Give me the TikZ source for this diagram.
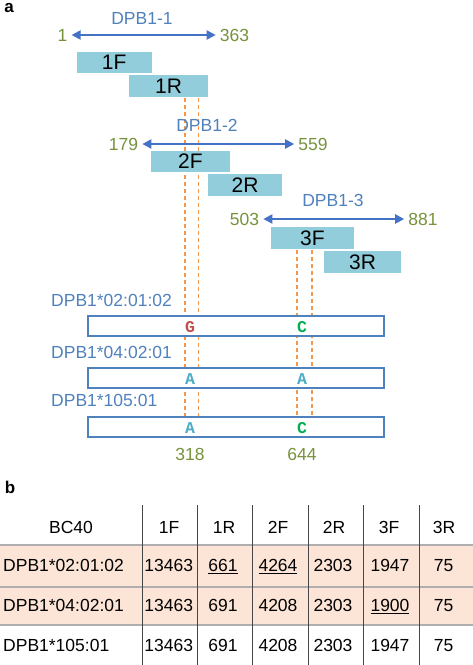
\documentclass[tikz,border=0pt]{standalone}
\usepackage{fontspec}
\setmainfont{Liberation Sans}
\newfontfamily\monob{Liberation Mono}
\usetikzlibrary{arrows.meta}
\definecolor{lblue}{RGB}{79,129,189}
\definecolor{arrblue}{RGB}{68,114,196}
\definecolor{olive}{RGB}{118,146,60}
\definecolor{primer}{RGB}{146,205,220}
\definecolor{dorange}{RGB}{247,150,70}
\definecolor{gred}{RGB}{192,80,77}
\definecolor{cgreen}{RGB}{0,176,80}
\definecolor{ateal}{RGB}{75,172,198}
\definecolor{peach}{RGB}{252,229,214}
\definecolor{gridgray}{RGB}{175,175,175}
\definecolor{vgray}{RGB}{70,70,70}
\begin{document}
\begin{tikzpicture}[x=1pt,y=-1pt,
  lbl/.style={text=lblue,font=\fontsize{17.5}{20}\selectfont,inner sep=0pt},
  num/.style={text=olive,font=\fontsize{17.5}{20}\selectfont,inner xsep=4pt,inner ysep=0pt},
  rng/.style={arrblue,line width=2pt,{Triangle[width=9pt,length=9pt]}-{Triangle[width=9pt,length=9pt]}},
  primerbox/.style={fill=primer,draw=none,inner sep=0pt,font=\fontsize{21}{24}\selectfont},
  snp/.style={dorange,line width=1.5pt,dash pattern=on 4pt off 3pt},
  allele/.style={draw=lblue,line width=2pt,fill=white,inner sep=0pt,minimum width=296pt,minimum height=20pt},
  base/.style={font=\monob\bfseries\fontsize{16.5}{18}\selectfont,inner sep=0pt},
  cell/.style={font=\fontsize{17.5}{20}\selectfont,inner sep=0pt,anchor=base},
  panel/.style={font=\bfseries\fontsize{17}{18}\selectfont,inner sep=0pt,anchor=base}
]
\useasboundingbox (0,0) rectangle (473,665);

% panel labels
\node[panel] (pa) at (9,12) {a};
\node[panel] (pb) at (10,493) {b};

% SNP guide lines (behind everything)
\coordinate (s1t) at (185,98);   \coordinate (s1b) at (185,417);
\coordinate (s2t) at (198.5,98); \coordinate (s2b) at (198.5,417);
\coordinate (s3t) at (297,250);  \coordinate (s3b) at (297,417);
\coordinate (s4t) at (312,250);  \coordinate (s4b) at (312,417);
\draw[snp] (s1t) -- (s1b);
\draw[snp] (s2t) -- (s2b);
\draw[snp] (s3t) -- (s3b);
\draw[snp] (s4t) -- (s4b);

% amplicon ranges
\node[lbl] (l1) at (142,18) {DPB1-1};
\node[num] (n1a) at (62.5,35) {1};
\node[num] (n1b) at (234.5,35) {363};
\draw[rng] (n1a.east) -- (n1b.west);

\node[lbl] (l2) at (207,125) {DPB1-2};
\node[num] (n2a) at (123.5,144) {179};
\node[num] (n2b) at (313,144) {559};
\draw[rng] (n2a.east) -- (n2b.west);

\node[lbl] (l3) at (333,200) {DPB1-3};
\node[num] (n3a) at (244.5,219) {503};
\node[num] (n3b) at (423,219) {881};
\draw[rng] (n3a.east) -- (n3b.west);

% primers
\node[primerbox,minimum width=74.5pt,minimum height=21pt] (p1F) at (114.25,62.5) {1F};
\node[primerbox,minimum width=79pt,minimum height=22pt] (p1R) at (168.5,86) {1R};
\node[primerbox,minimum width=79pt,minimum height=21pt] (p2F) at (190.5,161.5) {2F};
\node[primerbox,minimum width=74pt,minimum height=22pt] (p2R) at (245,185) {2R};
\node[primerbox,minimum width=83pt,minimum height=22pt] (p3F) at (312.5,238) {3F};
\node[primerbox,minimum width=77pt,minimum height=22pt] (p3R) at (362.5,262) {3R};

% alleles
\node[lbl,anchor=west] (al1) at (51,300) {DPB1*02:01:02};
\node[allele] (b1) at (236,326) {};
\node[lbl,anchor=west] (al2) at (51,352) {DPB1*04:02:01};
\node[allele] (b2) at (236,378) {};
\node[lbl,anchor=west] (al3) at (51,400.5) {DPB1*105:01};
\node[allele] (b3) at (236,427) {};

\node[base,text=gred] (g1) at (190,327) {G};
\node[base,text=cgreen] (c1) at (302,327) {C};
\node[base,text=ateal] (a2) at (190,379) {A};
\node[base,text=ateal] (a3) at (302,379) {A};
\node[base,text=ateal] (a4) at (190,428) {A};
\node[base,text=cgreen] (c4) at (302,428) {C};

\node[num] (pos1) at (190,454) {318};
\node[num] (pos2) at (302,454) {644};

% table
\fill[peach] (0,545) rectangle (473,625);
\foreach \yy in {545,587,625} \draw[gridgray,line width=1.2pt] (0,\yy) -- (473,\yy);
\foreach \xx in {142,197,252,308,363,419} \draw[vgray,line width=1pt] (\xx,505) -- (\xx,665);

\node[cell] (h0) at (71,533.3) {BC40};
\foreach [count=\c] \t/\xx in {1F/169,1R/224,2F/278,2R/334,3F/389,3R/444}
  \node[cell] (h\c) at (\xx,533.3) {\t};

\node[cell,anchor=base west] (r1c0) at (3,571.7) {DPB1*02:01:02};
\node[cell,anchor=base west] (r2c0) at (3,611.7) {DPB1*04:02:01};
\node[cell,anchor=base west] (r3c0) at (3,651.7) {DPB1*105:01};

\foreach [count=\c] \t/\xx in {13463/168.7,\underline{661}/223,\underline{4264}/278,2303/333,1947/390,75/443.7}
  \node[cell] (r1c\c) at (\xx,571.7) {\t};
\foreach [count=\c] \t/\xx in {13463/168.7,691/223,4208/278,2303/333,\underline{1900}/390,75/443.7}
  \node[cell] (r2c\c) at (\xx,611.7) {\t};
\foreach [count=\c] \t/\xx in {13463/168.7,691/223,4208/278,2303/333,1947/390,75/443.7}
  \node[cell] (r3c\c) at (\xx,651.7) {\t};
\end{tikzpicture}
\end{document}
